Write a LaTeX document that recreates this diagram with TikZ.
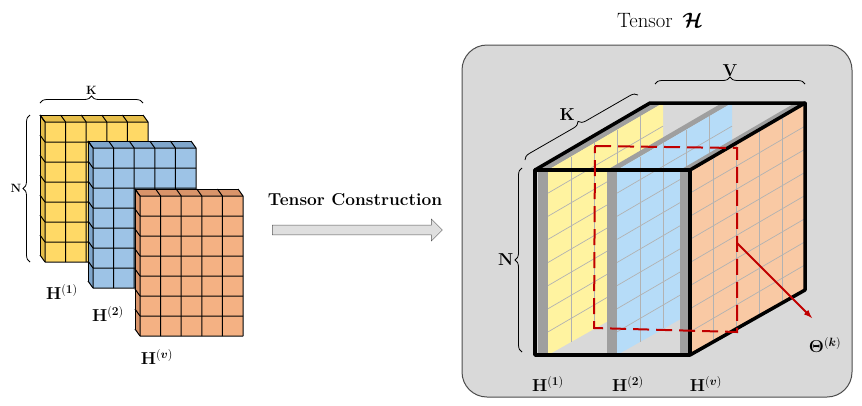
\documentclass[tikz,border=0pt]{standalone}
\usepackage{bm}
\usetikzlibrary{shapes.arrows,decorations.pathreplacing}
\definecolor{cy}{HTML}{FFD966}\definecolor{cys}{HTML}{E6BE4A}
\definecolor{cb}{HTML}{9DC3E6}\definecolor{cbs}{HTML}{7FA6CC}
\definecolor{co}{HTML}{F4B183}\definecolor{cos}{HTML}{D9946A}
\definecolor{ly}{HTML}{FFF3A0}\definecolor{lb}{HTML}{B6DCF8}\definecolor{lo}{HTML}{F9C9A4}
\definecolor{bg}{HTML}{D9D9D9}\definecolor{dred}{HTML}{C00000}
\newcommand\mystack[4]{%
  \fill[#4] (#1,#2) -- ++(-5,-7) -- ++(103,0) -- ++(5,7) -- cycle;
  \fill[#4] (#1,#2) -- ++(-5,-7) -- ++(0,140) -- ++(5,7) -- cycle;
  \fill[#3] (#1,#2) rectangle ++(103,140);
  \foreach \i in {0,...,5}{\draw[cell] (#1+20.6*\i,#2) -- ++(0,140) (#1+20.6*\i,#2) -- ++(-5,-7);}
  \foreach \j in {0,...,7}{\draw[cell] (#1,#2+20*\j) -- ++(103,0) (#1,#2+20*\j) -- ++(-5,-7);}
  \draw[cell] (#1-5,#2-7) -- ++(103,0) (#1-5,#2-7) -- ++(0,140);}
\newcommand\myslice[2]{%
  \fill[gray!75] (#1-10,170) rectangle (#1,355);
  \fill[gray!75] (#1-10,170) -- (#1,170) -- (#1+115,103) -- (#1+105,103) -- cycle;
  \fill[#2] (#1,170) -- (#1+115,103) -- (#1+115,290) -- (#1,355) -- cycle;
  \foreach \t in {0.2,0.4,0.6,0.8}{\draw[gl] (#1+115*\t,170-67*\t) -- (#1+115*\t,355-67*\t);}
  \foreach \j in {1,...,7}{\draw[gl] (#1,170+23.125*\j) -- ++(115,-67);}}
\begin{document}
\begin{tikzpicture}[x=1pt,y=-1pt,
  cell/.style={black,line width=1pt},
  gl/.style={gray!60,line width=0.7pt},
  frame/.style={black,line width=3.5pt,line cap=round,line join=round},
  br/.style={decorate,decoration={brace,amplitude=7pt},line width=0.8pt},
  lab/.style={font=\bfseries\LARGE},
  hl/.style={font=\LARGE}]
\useasboundingbox (0,0) rectangle (862,405);
% left stacks
\mystack{45}{122}{cy}{cys}
\mystack{93}{148}{cb}{cbs}
\mystack{140}{196}{co}{cos}
\draw[br] (40,103) -- (143,103) node[midway,above=5pt,font=\bfseries\large] (k1) {K};
\draw[br] (30,262) -- (30,115) node[midway,left=5pt,font=\bfseries\large] (n1) {N};
\node[hl] (h1) at (62,292) {$\mathbf{H}^{(\mathbf{1})}$};
\node[hl] (h2) at (108,314) {$\mathbf{H}^{(\mathbf{2})}$};
\node[hl] (hv) at (157,357) {$\mathbf{H}^{(\bm{v})}$};
% arrow
\node[single arrow,draw=gray!70!black,fill=gray!25,minimum height=170pt,minimum width=22pt,single arrow head extend=4pt,inner sep=3pt] (arr) at (355,230) {};
\node[font=\bfseries\LARGE] (tc) at (355,200) {Tensor Construction};
% right box
\draw[gray!60!black,fill=bg,rounded corners=25pt,line width=1pt] (462,45) rectangle (852,397);
\node[font=\huge] (tt) at (660,20) {Tensor\, $\bm{\mathcal{H}}$};
\myslice{548}{ly}
\myslice{617}{lb}
\myslice{690}{lo}
% frame
\draw[frame] (535,170) rectangle (690,355);
\draw[frame] (535,170) -- (650,103) -- (805,103) -- (805,290) -- (690,355);
\draw[frame] (690,170) -- (805,103);
% red dashed
\draw[dred,dash pattern=on 16pt off 7pt,line width=2pt] (595,146) -- (737,148) -- (737,332) -- (594,328) -- cycle;
\coordinate (rs) at (737,243);
\coordinate (re) at (812,318);
\draw[dred,line width=1.8pt,-latex] (rs) -- (re);
\node[hl] (th) at (825,345) {$\bm{\Theta}^{(\bm{k})}$};
% braces
\draw[br] (525,160) -- (638,95) node[midway,above left=3pt,lab] (k2) {K};
\draw[br] (655,84) -- (805,84) node[midway,above=4pt,lab] (v2) {V};
\draw[br] (522,352) -- (522,168) node[midway,left=5pt,lab] (n2) {N};
\node[hl] (h21) at (548,384) {$\mathbf{H}^{(\mathbf{1})}$};
\node[hl] (h22) at (628,384) {$\mathbf{H}^{(\mathbf{2})}$};
\node[hl] (h2v) at (706,384) {$\mathbf{H}^{(\bm{v})}$};
\end{tikzpicture}
\end{document}
